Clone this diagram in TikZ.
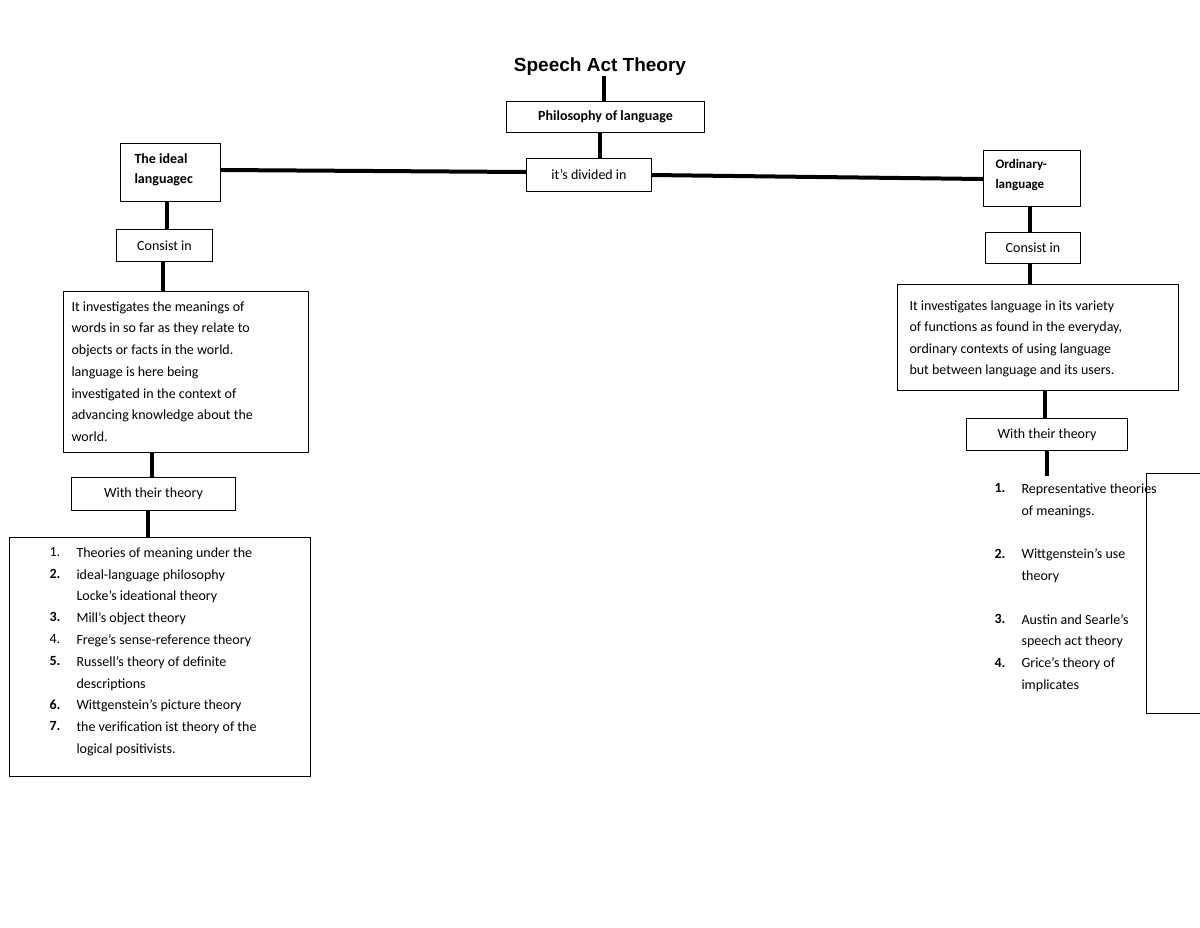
\documentclass[tikz,border=0pt]{standalone}
\usepackage{fontspec}
\setmainfont{Carlito}
\newfontfamily\ttl{Liberation Sans}
\begin{document}
\begin{tikzpicture}[x=1pt,y=-1pt,
 box/.style={draw,line width=1pt,inner sep=0pt,anchor=north west},
 conn/.style={line width=4pt},
 every node/.style={font=\fontsize{14}{17}\selectfont}]
\useasboundingbox (0,0) rectangle (1200,927);
\node (title) at (600,67) {\ttl\bfseries\fontsize{19}{22}\selectfont Speech Act Theory};
\node[box,minimum width=198,minimum height=31] (phil) at (506,101) {};
\node at (phil.center) {\bfseries Philosophy of language};
\node[box,minimum width=125,minimum height=33] (div) at (526,158) {};
\node at (div.center) {it's divided in};
\node[box,minimum width=100,minimum height=58] (ideal) at (120,143) {};
\node[anchor=north west,align=left,font=\bfseries\fontsize{14}{20}\selectfont] at (131,150) {The ideal\\languagec};
\node[box,minimum width=97,minimum height=56] (ord) at (983,150) {};
\node[anchor=north west,align=left,font=\bfseries\fontsize{13}{20}\selectfont] at (992,156) {Ordinary-\\language};
\node[box,minimum width=96,minimum height=32] (lc) at (116,229) {};
\node at (lc.center) {Consist in};
\node[box,minimum width=95,minimum height=31] (rc) at (985,232) {};
\node at (rc.center) {Consist in};
\node[box,minimum width=245,minimum height=161] (lt) at (63,291) {};
\node[anchor=north west,align=left,font=\fontsize{14}{21.7}\selectfont] at (68,298) {It investigates the meanings of\\words in so far as they relate to\\objects or facts in the world.\\language is here being\\investigated in the context of\\advancing knowledge about the\\world.};
\node[box,minimum width=281,minimum height=106] (rt) at (897,284) {};
\node[anchor=north west,align=left,font=\fontsize{14}{21.5}\selectfont] at (906,297) {It investigates language in its variety\\of functions as found in the everyday,\\ordinary contexts of using language\\but between language and its users.};
\node[box,minimum width=164,minimum height=33] (lw) at (71,477) {};
\node at (lw.center) {With their theory};
\node[box,minimum width=161,minimum height=32] (rw) at (966,418) {};
\node at (rw.center) {With their theory};
\node[box,minimum width=301,minimum height=239] (ll) at (9,537) {};
\node[anchor=north west,align=left,font=\fontsize{14}{21.8}\selectfont] at (46,544) {1.\\\textbf{2.}\\\\\textbf{3.}\\4.\\\textbf{5.}\\\\\textbf{6.}\\\textbf{7.}};
\node[anchor=north west,align=left,font=\fontsize{14}{21.8}\selectfont] at (73,544) {Theories of meaning under the\\ideal-language philosophy\\Locke's ideational theory\\Mill's object theory\\Frege's sense-reference theory\\Russell's theory of definite\\descriptions\\Wittgenstein's picture theory\\the verification ist theory of the\\logical positivists.};
\node[box,minimum width=60,minimum height=240] (rb) at (1146,473) {};
\node[anchor=north west,align=left,font=\fontsize{14}{21.8}\selectfont] at (991,480) {\textbf{1.}\\\\\\\textbf{2.}\\\\\\\textbf{3.}\\\\\textbf{4.}};
\node[anchor=north west,align=left,font=\fontsize{14}{21.8}\selectfont] at (1018,480) {Representative theories\\of meanings.\\\\Wittgenstein's use\\theory\\\\Austin and Searle's\\speech act theory\\Grice's theory of\\implicates};
\coordinate (t1) at (604,76);
\draw[conn] (t1) -- (604,101);
\draw[conn] (600,132) -- (600,158);
\draw[conn] (ideal.east |- 0,170) -- (526,172);
\draw[conn] (651,175) -- (983,179);
\draw[conn] (167,201) -- (167,229);
\draw[conn] (163,261) -- (163,291);
\draw[conn] (152,452) -- (152,477);
\draw[conn] (148,510) -- (148,537);
\draw[conn] (1030,206) -- (1030,232);
\draw[conn] (1030,263) -- (1030,284);
\draw[conn] (1045,390) -- (1045,418);
\draw[conn] (1047,450) -- (1047,476);
\end{tikzpicture}
\end{document}
